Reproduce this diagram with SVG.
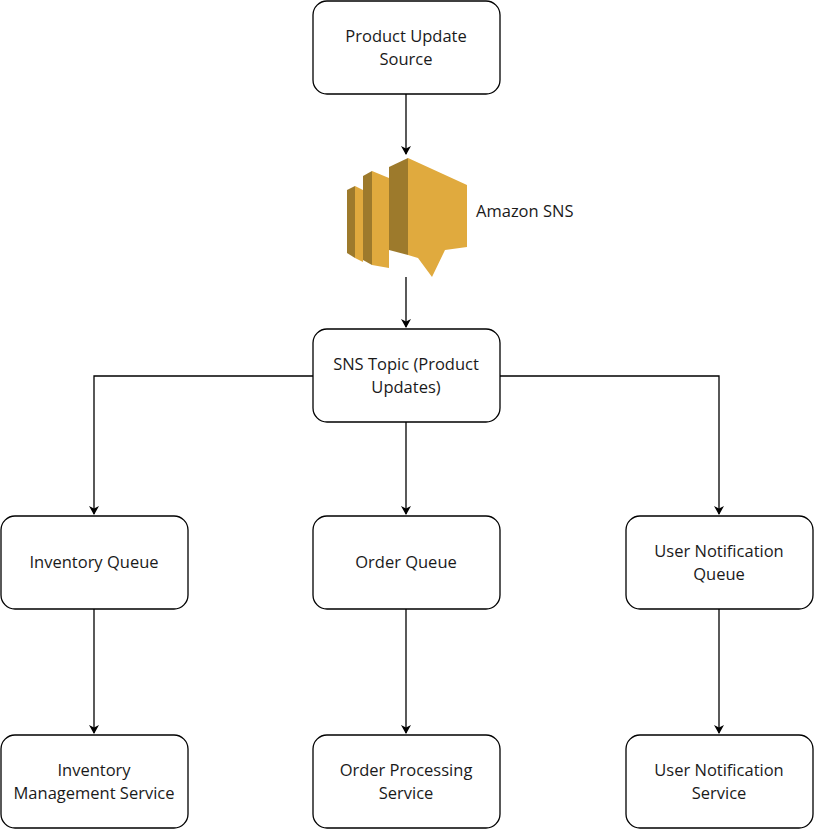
<svg xmlns="http://www.w3.org/2000/svg" width="814" height="830" viewBox="0 0 814 830">
<style>
.n rect{fill:#fff;stroke:#000;stroke-width:1.3}
text{font-family:"Open Sans","Liberation Sans",Arial,sans-serif;font-size:16.5px;text-anchor:middle;fill:#1a1a1a}
.c path{fill:none;stroke:#000;stroke-width:1.3;marker-end:url(#a)}
</style>
<defs><marker id="a" markerWidth="10" markerHeight="10" refX="8" refY="5" orient="auto" markerUnits="userSpaceOnUse"><path d="M0,0 L9,5 L0,10 L2.5,5 z" fill="#000"/></marker></defs>
<rect width="814" height="830" fill="#fff"/>
<g class="c">
<path d="M406,94 V154"/>
<path d="M406,277 V327"/>
<path d="M406,422 V514"/>
<path d="M313,376 H94 V514"/>
<path d="M500,376 H719 V514"/>
<path d="M94,609 V733"/>
<path d="M406,609 V733"/>
<path d="M719,609 V733"/>
</g>
<g id="source" class="n"><rect x="313" y="1" width="187" height="93" rx="14"/><text x="406" y="42">Product Update</text><text x="406" y="65">Source</text></g>
<g id="sns">
<polygon points="347,190 355,186 355,258 347,253" fill="#9d7a2c"/>
<polygon points="355,186 363,190 363,262 355,258" fill="#e0aa3e"/>
<polygon points="363,176 372,171 372,265 363,260" fill="#9d7a2c"/>
<polygon points="372,171 389,178 389,268 372,265" fill="#e0aa3e"/>
<polygon points="389,167 408,158 408,255 389,250" fill="#9d7a2c"/>
<polygon points="408,158 467,185 467,247 445,250 432,277 418,258 408,255" fill="#e0aa3e"/>
<text x="476" y="217" style="text-anchor:start">Amazon SNS</text>
</g>
<g id="topic" class="n"><rect x="313" y="329" width="187" height="93" rx="14"/><text x="406" y="370">SNS Topic (Product</text><text x="406" y="393">Updates)</text></g>
<g id="invq" class="n"><rect x="1" y="516" width="187" height="93" rx="14"/><text x="94" y="568">Inventory Queue</text></g>
<g id="ordq" class="n"><rect x="313" y="516" width="187" height="93" rx="14"/><text x="406" y="568">Order Queue</text></g>
<g id="userq" class="n"><rect x="626" y="516" width="187" height="93" rx="14"/><text x="719" y="557">User Notification</text><text x="719" y="580">Queue</text></g>
<g id="invs" class="n"><rect x="1" y="735" width="187" height="93" rx="14"/><text x="94" y="776">Inventory</text><text x="94" y="799">Management Service</text></g>
<g id="ords" class="n"><rect x="313" y="735" width="187" height="93" rx="14"/><text x="406" y="776">Order Processing</text><text x="406" y="799">Service</text></g>
<g id="users" class="n"><rect x="626" y="735" width="187" height="93" rx="14"/><text x="719" y="776">User Notification</text><text x="719" y="799">Service</text></g>
</svg>
